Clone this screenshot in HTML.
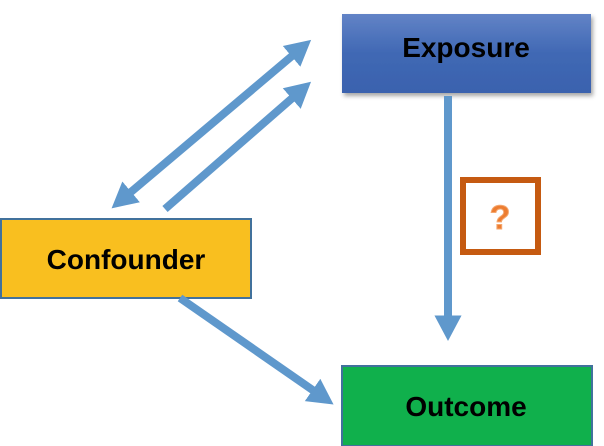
<!DOCTYPE html>
<html><head><style>
html,body{margin:0;padding:0;width:604px;height:446px;overflow:hidden;background:#fff;}
</style></head><body>
<svg width="604" height="446" viewBox="0 0 604 446" xmlns="http://www.w3.org/2000/svg">
<defs>
<linearGradient id="g" x1="0" y1="0" x2="0" y2="1">
<stop offset="0" stop-color="#6283c6"/><stop offset="0.5" stop-color="#4068b4"/><stop offset="1" stop-color="#3a62ae"/>
</linearGradient>
<filter id="s" x="-10%" y="-10%" width="130%" height="140%"><feDropShadow dx="2" dy="3" stdDeviation="2" flood-color="#000" flood-opacity="0.35"/></filter>
<marker id="a" markerWidth="4" markerHeight="4" refX="2.2" refY="2" orient="auto" markerUnits="strokeWidth"><path d="M0,0.3 L3.2,2 L0,3.7 Z" fill="#5f98cc"/></marker>
<marker id="b" markerWidth="4" markerHeight="4" refX="1" refY="2" orient="auto-start-reverse" markerUnits="strokeWidth"><path d="M0,0.3 L3.2,2 L0,3.7 Z" fill="#5f98cc"/></marker>
</defs>
<rect x="342" y="14" width="249" height="79" fill="url(#g)" filter="url(#s)"/>
<rect x="1" y="219" width="250" height="79" fill="#f9bf1f" stroke="#41719c" stroke-width="2"/>
<rect x="342" y="366" width="250" height="80" fill="#10b04c" stroke="#41719c" stroke-width="2"/>
<g stroke="#5f98cc" stroke-width="8" fill="none">
<line x1="448" y1="96" x2="448" y2="333" marker-end="url(#a)"/>
<line x1="125" y1="197" x2="305" y2="45" marker-end="url(#a)" marker-start="url(#b)"/>
<line x1="165" y1="209" x2="305" y2="87" marker-end="url(#a)"/>
<line x1="180" y1="298" x2="327" y2="400" marker-end="url(#a)"/>
</g>
<rect x="463" y="180" width="75" height="72" fill="#fff" stroke="#c55a11" stroke-width="6"/>
<text x="500" y="229" text-anchor="middle" font-family="Liberation Sans, sans-serif" font-weight="bold" font-size="34" fill="#ed7d31" stroke="#f4a76f" stroke-width="1">?</text>
<g font-family="Liberation Sans, sans-serif" font-weight="bold" font-size="28" text-anchor="middle" fill="#000">
<text x="466" y="57">Exposure</text>
<text x="126" y="269">Confounder</text>
<text x="466" y="416">Outcome</text>
</g>
</svg>
</body></html>
